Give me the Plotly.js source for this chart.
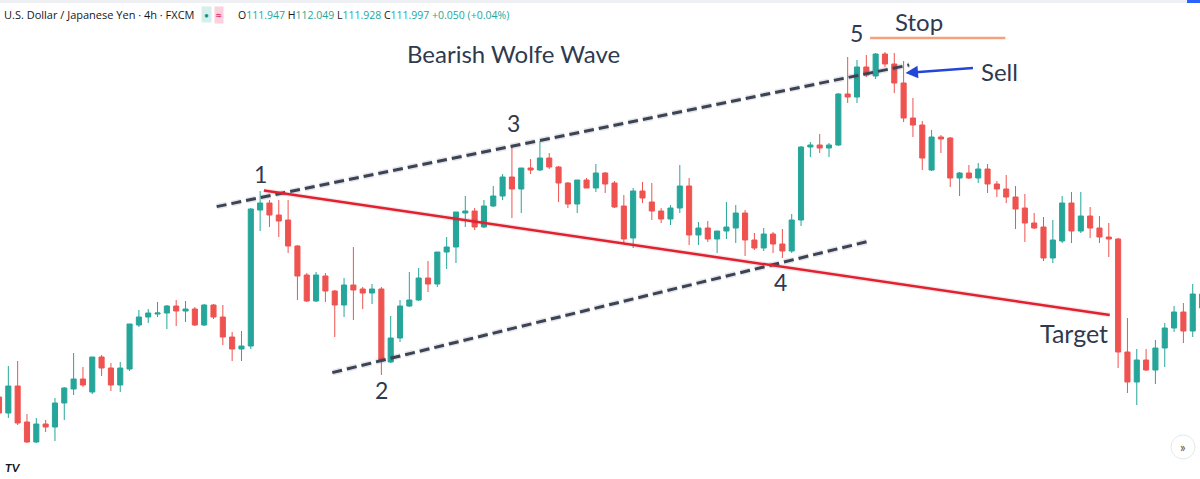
<!DOCTYPE html>
<html>
<head>
<meta charset="utf-8">
<script src="https://cdn.plot.ly/plotly-3.0.1.min.js"></script>
<style>html,body{margin:0;padding:0;background:#fff;}#chart{width:1200px;height:479px;}</style>
</head>
<body>
<div id="chart"></div>
<script>
// USD/JPY 4h candles
const openP = [
111.515,111.435,111.57,111.39,111.29,111.38,111.365,111.485,111.555,111.605,
111.54,111.715,111.66,111.575,111.655,111.875,111.915,111.93,111.935,111.97,
111.945,111.955,111.875,111.975,111.915,111.815,111.755,111.77,112.45,112.485,
112.425,112.4,112.27,112.125,111.995,112.12,112.045,111.975,112.075,112.055,
112.035,112.055,111.69,111.81,111.97,112.0,112.11,112.08,112.24,112.265,
112.435,112.445,112.365,112.47,112.52,112.615,112.555,112.66,112.65,112.71,
112.665,112.585,112.48,112.6,112.56,112.635,112.585,112.47,112.31,112.545,
112.49,112.445,112.405,112.46,112.57,112.325,112.36,112.305,112.345,112.36,
112.435,112.3,112.26,112.33,112.28,112.245,112.4,112.765,112.775,112.76,
112.775,113.03,113.015,113.165,113.12,113.23,113.18,113.085,112.91,112.875,
112.65,112.815,112.81,112.61,112.635,112.61,112.655,112.58,112.555,112.515,
112.46,112.385,112.365,112.21,112.295,112.485,112.345,112.42,112.36,112.315,
112.305,111.74,111.59,111.7,111.65,111.76,111.86,111.94,111.845,112.03];
const highP = [
111.56,111.67,111.695,111.43,111.41,111.4,111.51,111.565,111.735,111.665,
111.715,111.725,111.685,111.69,111.88,111.95,111.955,111.99,111.975,112.0,
111.995,111.965,111.98,111.98,111.975,111.84,111.845,112.46,112.545,112.5,
112.5,112.5,112.275,112.135,112.14,112.135,112.05,112.11,112.265,112.065,
112.08,112.065,111.92,112.0,112.14,112.16,112.195,112.24,112.315,112.44,
112.52,112.46,112.5,112.57,112.63,112.775,112.66,112.705,112.795,112.735,
112.67,112.59,112.6,112.61,112.68,112.64,112.595,112.525,112.56,112.59,
112.585,112.46,112.475,112.675,112.61,112.39,112.395,112.345,112.49,112.475,
112.45,112.335,112.36,112.34,112.355,112.43,112.77,112.79,112.83,112.785,
113.035,113.215,113.2,113.225,113.235,113.24,113.235,113.195,113.01,112.895,
112.85,112.825,112.815,112.64,112.675,112.685,112.68,112.595,112.625,112.57,
112.53,112.435,112.415,112.4,112.52,112.54,112.54,112.465,112.42,112.385,
112.31,111.91,111.755,111.755,111.8,111.885,111.97,111.985,112.08,112.075];
const lowP = [
111.4,111.41,111.375,111.285,111.285,111.34,111.295,111.4,111.525,111.565,
111.53,111.62,111.545,111.54,111.645,111.865,111.885,111.915,111.855,111.87,
111.89,111.87,111.87,111.905,111.775,111.695,111.695,111.755,112.345,112.365,
112.315,112.235,112.0,111.99,111.99,111.99,111.815,111.915,111.9,111.955,
111.98,111.625,111.685,111.79,111.965,111.995,112.04,112.065,112.155,112.185,
112.365,112.35,112.36,112.465,112.5,112.41,112.435,112.63,112.645,112.655,
112.49,112.46,112.435,112.56,112.54,112.535,112.46,112.285,112.26,112.485,
112.4,112.385,112.375,112.435,112.275,112.275,112.29,112.235,112.305,112.285,
112.22,112.25,112.245,112.235,112.21,112.235,112.37,112.715,112.735,112.715,
112.77,112.985,112.985,113.115,113.105,113.165,113.035,112.89,112.815,112.65,
112.645,112.735,112.565,112.52,112.605,112.585,112.535,112.515,112.485,112.355,
112.29,112.355,112.195,112.185,112.285,112.285,112.335,112.31,112.285,112.215,
111.66,111.535,111.475,111.645,111.58,111.665,111.84,111.785,111.815,111.9];
const closeP = [
111.435,111.57,111.385,111.29,111.38,111.365,111.485,111.56,111.605,111.575,
111.715,111.66,111.575,111.66,111.88,111.915,111.935,111.935,111.97,111.945,
111.955,111.875,111.975,111.915,111.815,111.755,111.77,112.455,112.485,112.425,
112.395,112.27,112.12,111.995,112.125,112.045,111.975,112.075,112.05,112.035,
112.055,111.695,111.81,111.97,112.0,112.11,112.08,112.24,112.265,112.44,
112.445,112.365,112.47,112.52,112.615,112.555,112.66,112.65,112.71,112.665,
112.585,112.48,112.6,112.56,112.635,112.58,112.465,112.305,112.545,112.51,
112.445,112.405,112.46,112.57,112.325,112.36,112.305,112.345,112.365,112.435,
112.3,112.26,112.33,112.28,112.245,112.4,112.765,112.775,112.76,112.775,
113.03,113.015,113.165,113.125,113.23,113.18,113.085,112.91,112.875,112.71,
112.815,112.805,112.61,112.635,112.61,112.655,112.58,112.555,112.515,112.455,
112.385,112.36,112.21,112.3,112.485,112.345,112.42,112.36,112.315,112.305,
111.74,111.59,111.7,111.65,111.76,111.86,111.94,111.845,112.03,111.96];
const barIndex = openP.map((_, i) => i);

// Wolfe wave construction lines (bar index, price)
const line13X = [23.34, 97.6],  line13Y = [112.467, 113.175];
const line24X = [35.74, 93.1],  line24Y = [111.637, 112.292];
const line14X = [28.4, 119.1],  line14Y = [112.547, 111.925];
const stopX = [93.4, 107.9],    stopY = [113.31, 113.31];
const sellArrow = {x: 97.2, y: 113.135, ax: 104.6, ay: 113.16};

const header = 'U.S. Dollar / Japanese Yen · 4h · FXCM';
const ohlcLabels = ['O', 'H', 'L', 'C'];
const ohlcValues = ['111.947', '112.049', '111.928', '111.997'];
const changeText = '+0.050 (+0.04%)';

const navy = '#2f3a4f';
const dashCol = '#3b4354';
const up = '#26a69a', dn = '#ef5350';

const traces = [
  {type:'candlestick', x: barIndex, open: openP, high: highP, low: lowP, close: closeP,
   increasing:{line:{color:up, width:1}, fillcolor:up},
   decreasing:{line:{color:dn, width:1}, fillcolor:dn},
   whiskerwidth:0, hoverinfo:'skip', showlegend:false},
  // soft shadows
  {type:'scatter', mode:'lines', x: line13X, y: line13Y, line:{color:'rgba(40,50,70,0.12)', width:6, dash:'10px,5px'}, hoverinfo:'skip', showlegend:false},
  {type:'scatter', mode:'lines', x: line24X, y: line24Y, line:{color:'rgba(40,50,70,0.12)', width:6, dash:'10px,5px'}, hoverinfo:'skip', showlegend:false},
  {type:'scatter', mode:'lines', x: line14X, y: line14Y, line:{color:'rgba(120,20,30,0.10)', width:5}, hoverinfo:'skip', showlegend:false},
  // lines
  {type:'scatter', mode:'lines', x: line13X, y: line13Y, line:{color:dashCol, width:3, dash:'10px,5px'}, hoverinfo:'skip', showlegend:false},
  {type:'scatter', mode:'lines', x: line24X, y: line24Y, line:{color:dashCol, width:3, dash:'10px,5px'}, hoverinfo:'skip', showlegend:false},
  {type:'scatter', mode:'lines', x: line14X, y: line14Y, line:{color:'#e3202f', width:2.5}, hoverinfo:'skip', showlegend:false},
  {type:'scatter', mode:'lines', x: stopX, y: stopY, line:{color:'#f2a27c', width:2.5}, hoverinfo:'skip', showlegend:false}
];

const lblFont = {family:'Lato, "Open Sans", sans-serif', size:24, color:navy};
function lbl(text, px, py, size) {
  return {text:text, xref:'paper', yref:'paper', x: px/1200, y: 1 - py/479,
          xanchor:'center', yanchor:'middle', showarrow:false,
          font: Object.assign({}, lblFont, size ? {size:size} : {})};
}

let ohlcHtml = ohlcLabels.map((l, i) => l + '<span style="color:' + up + '">' + ohlcValues[i] + '</span>').join(' ')
  + ' <span style="color:' + up + '">' + changeText + '</span>';

const annotations = [
  lbl('1', 260, 174, 23),
  lbl('2', 381, 390, 23),
  lbl('3', 513, 123, 23),
  lbl('4', 780, 282, 23),
  lbl('5', 857, 33, 23),
  lbl('Stop', 919, 22),
  lbl('Sell', 999, 71),
  lbl('Target', 1074, 333, 25),
  lbl('Bearish Wolfe Wave', 513, 53),
  {text:'', x: sellArrow.x, y: sellArrow.y, ax: sellArrow.ax, ay: sellArrow.ay, axref:'x', ayref:'y',
   xref:'x', yref:'y', showarrow:true, arrowhead:2, arrowsize:1, arrowwidth:2.5, arrowcolor:'#2446d8', standoff:0},
  {text: header, xref:'paper', yref:'paper', x: 2/1200, y: 1 - 15/479, xanchor:'left', yanchor:'middle',
   showarrow:false, font:{family:'"Open Sans", Lato, sans-serif', size:11, color:'#131722'}},
  {text:'<b>●</b>', xref:'paper', yref:'paper', x: 206/1200, y: 1 - 15/479, xanchor:'center', yanchor:'middle',
   showarrow:false, bgcolor:'#d4efec', borderpad:2, font:{size:8, color:'#159585'}},
  {text:'<b>≈</b>', xref:'paper', yref:'paper', x: 219/1200, y: 1 - 15/479, xanchor:'center', yanchor:'middle',
   showarrow:false, bgcolor:'#fad1dd', borderpad:1, font:{size:10, color:'#e0407a'}},
  {text: ohlcHtml, xref:'paper', yref:'paper', x: 236/1200, y: 1 - 15/479, xanchor:'left', yanchor:'middle',
   showarrow:false, font:{family:'"Open Sans", Lato, sans-serif', size:10.5, color:'#131722'}},
  {text:'<b><i>TV</i></b>', xref:'paper', yref:'paper', x: 13/1200, y: 1 - 467/479, xanchor:'center', yanchor:'middle',
   showarrow:false, font:{family:'Lato, sans-serif', size:12, color:'#131722'}},
  {text:'»', xref:'paper', yref:'paper', x: 1183/1200, y: 1 - 447/479, xanchor:'center', yanchor:'middle',
   showarrow:false, font:{family:'Lato, sans-serif', size:13, color:'#555'}}
];

const shapes = [
  {type:'rect', xref:'paper', yref:'paper', x0:0, x1:1, y0:1 - 3/479, y1:1, fillcolor:'#eef0f4', line:{width:0}, layer:'above'},
  {type:'rect', xref:'paper', yref:'paper', x0:1187/1200, x1:1, y0:1 - 3/479, y1:1, fillcolor:'#2962ff', line:{width:0}, layer:'above'},
  {type:'circle', xref:'paper', yref:'paper', x0:1171/1200, x1:1195/1200, y0:1 - 459/479, y1:1 - 435/479,
   fillcolor:'#ffffff', line:{color:'#e6e8ec', width:1}, layer:'below'}
];

const layout = {
  width:1200, height:479,
  margin:{l:0, r:0, t:0, b:0, pad:0},
  paper_bgcolor:'#ffffff', plot_bgcolor:'#ffffff',
  showlegend:false,
  xaxis:{range:[0.107, 128.78], showgrid:false, zeroline:false, showticklabels:false, showline:false,
         ticks:'', rangeslider:{visible:false}, fixedrange:true},
  yaxis:{range:[111.105, 113.5], showgrid:false, zeroline:false, showticklabels:false, showline:false,
         ticks:'', fixedrange:true},
  boxgap:0.22,
  annotations: annotations,
  shapes: shapes
};

Plotly.newPlot('chart', traces, layout, {staticPlot:true, displayModeBar:false});
</script>
</body>
</html>
